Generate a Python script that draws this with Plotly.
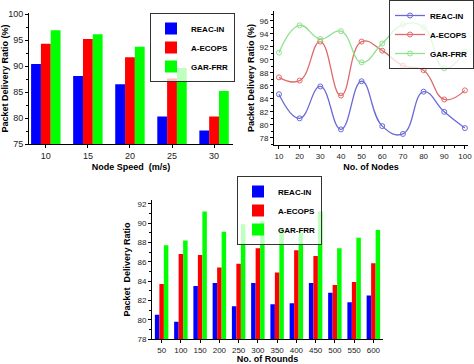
import plotly.graph_objects as go

series = ["REAC-IN", "A-ECOPS", "GAR-FRR"]
bar_colors = ["#0000ff", "#ff0000", "#00ff00"]
line_colors = ["#6a6ad8", "#e06a6a", "#8ee28e"]

# Top-left: node speed
speed_labels = ["10", "15", "20", "25", "30"]
speed_reac = [90.4, 88.1, 86.5, 80.3, 77.6]
speed_aecops = [94.3, 95.2, 91.7, 87.6, 80.3]
speed_garfrr = [96.9, 96.1, 93.7, 89.6, 85.2]

# Top-right: number of nodes
nodes = [10, 20, 30, 40, 50, 60, 70, 80, 90, 100]
nodes_reac = [84.7, 81.0, 85.9, 79.3, 86.7, 79.8, 78.6, 85.1, 82.0, 79.5]
nodes_aecops = [87.3, 86.8, 92.8, 84.5, 92.8, 91.4, 89.1, 88.4, 83.9, 85.3]
nodes_garfrr = [91.1, 95.3, 93.2, 94.4, 89.6, 92.5, 95.4, 95.0, 88.7, 91.3]

# Bottom: rounds
round_labels = ["50", "100", "150", "200", "250", "300", "350", "400", "450", "500", "550", "600"]
rounds_reac = [80.5, 79.8, 83.5, 83.8, 81.4, 83.8, 81.6, 81.7, 83.8, 82.8, 81.8, 82.5]
rounds_aecops = [83.7, 86.8, 86.7, 85.4, 85.8, 87.4, 84.9, 87.2, 86.6, 83.6, 83.9, 85.85]
rounds_garfrr = [87.7, 88.2, 91.2, 89.1, 89.9, 90.2, 89.5, 89.0, 91.2, 87.4, 88.5, 89.3]

W, H = 474, 364
FONT = "Liberation Sans, Arial, sans-serif"

fig = go.Figure()

for name, vals, col in zip(series, [speed_reac, speed_aecops, speed_garfrr], bar_colors):
    fig.add_trace(go.Bar(x=speed_labels, y=vals, name=name, marker_color=col,
                         marker_line_width=0, xaxis="x", yaxis="y", legend="legend"))

for name, vals, col in zip(series, [nodes_reac, nodes_aecops, nodes_garfrr], line_colors):
    fig.add_trace(go.Scatter(x=nodes, y=vals, name=name, mode="lines+markers",
                             line=dict(color=col, width=1.3, shape="spline", smoothing=1.3),
                             marker=dict(symbol="circle-open", size=5, color=col, line=dict(width=1)),
                             xaxis="x2", yaxis="y2", legend="legend2"))

for name, vals, col in zip(series, [rounds_reac, rounds_aecops, rounds_garfrr], bar_colors):
    fig.add_trace(go.Bar(x=round_labels, y=vals, name=name, marker_color=col,
                         marker_line_width=0, xaxis="x3", yaxis="y3", legend="legend3"))

def px_x(p):
    return p / W

def px_y(p):
    return 1 - p / H

axis_common = dict(showline=True, linecolor="black", linewidth=1, ticks="outside",
                   ticklen=3, tickcolor="black", showgrid=False, zeroline=False,
                   automargin=False)
tick9 = dict(family=FONT, size=9, color="#222")
tick8 = dict(family=FONT, size=8, color="#222")
title_font = dict(family=FONT, size=9, color="black", weight="bold")
legend_font = dict(family=FONT, size=8, color="black", weight="bold")

fig.update_layout(
    width=W, height=H, margin=dict(l=0, r=0, t=0, b=0, autoexpand=False),
    paper_bgcolor="white", plot_bgcolor="white",
    barmode="group", bargap=0.3, bargroupgap=0,
    font=dict(family=FONT),
    xaxis=dict(domain=[px_x(29), px_x(233)], anchor="y", range=[-0.4, 4.45], tickfont=tick9,
               title=dict(text="Node Speed  (m/s)", font=title_font, standoff=3), **axis_common),
    yaxis=dict(domain=[px_y(144), px_y(13)], anchor="x", range=[75, 100.2], tickvals=[75, 80, 85, 90, 95, 100],
               tickfont=tick9,
               minor=dict(ticks="outside", ticklen=2, tickcolor="black", dtick=2.5),
               title=dict(text="Packet Delivery Ratio (%)", font=title_font, standoff=3), **axis_common),
    xaxis2=dict(domain=[px_x(274), px_x(468)], anchor="y2", range=[7.6, 101.5], tickfont=tick8,
                tickvals=nodes, minor=dict(ticks="outside", ticklen=2, tickcolor="black", dtick=5),
                title=dict(text="No. of Nodes", font=title_font, standoff=4), **axis_common),
    yaxis2=dict(domain=[px_y(145), px_y(11)], anchor="x2", range=[76.9, 97.5],
                tickvals=list(range(78, 97, 2)), tickfont=tick8,
                minor=dict(ticks="outside", ticklen=2, tickcolor="black", dtick=1),
                title=dict(text="Packet Delivery Ratio (%)", font=title_font, standoff=3), **axis_common),
    xaxis3=dict(domain=[px_x(152), px_x(383)], anchor="y3", range=[-0.5, 11.5], tickfont=tick8,
                title=dict(text="No. of Rounds", font=title_font, standoff=7), **axis_common),
    yaxis3=dict(domain=[px_y(339), px_y(200)], anchor="x3", range=[78, 92.4],
                tickvals=list(range(78, 93, 2)), tickfont=tick8,
                minor=dict(ticks="outside", ticklen=2, tickcolor="black", dtick=1),
                title=dict(text="Packet  Delivery Ratio", font=title_font, standoff=5), **axis_common),
    legend=dict(x=px_x(150), y=px_y(13), xanchor="left", yanchor="top",
                bgcolor="rgba(255,255,255,0.75)", bordercolor="#333", borderwidth=1,
                font=legend_font, tracegroupgap=0, itemwidth=30),
    legend2=dict(x=1, y=1, xanchor="right", yanchor="top",
                 bgcolor="rgba(255,255,255,0.75)", bordercolor="#333", borderwidth=1,
                 font=legend_font, tracegroupgap=0, itemwidth=30),
    legend3=dict(x=px_x(237), y=px_y(176), xanchor="left", yanchor="top",
                 bgcolor="rgba(255,255,255,0.75)", bordercolor="#333", borderwidth=1,
                 font=legend_font, tracegroupgap=0, itemwidth=30),
)

fig.write_html("out.html", config={"displayModeBar": False},
               post_script="document.body.style.margin='0';document.body.style.overflow='hidden';")
